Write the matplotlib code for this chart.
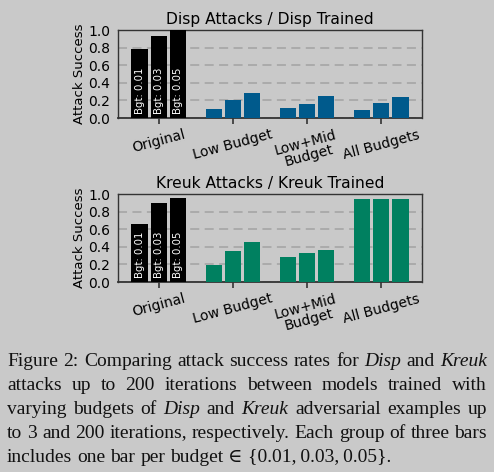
import matplotlib
matplotlib.use('Agg')
import matplotlib.pyplot as plt
import numpy as np

plt.rcParams['font.family'] = ['DejaVu Sans']

groups = ['Original', 'Low Budget', 'Low+Mid\nBudget', 'All Budgets']
budgets = ['0.01', '0.03', '0.05']

disp_orig = [0.79, 0.93, 1.00]
disp_low = [0.10, 0.21, 0.29]
disp_lowmid = [0.11, 0.16, 0.25]
disp_all = [0.09, 0.17, 0.24]

kreuk_orig = [0.66, 0.90, 0.96]
kreuk_low = [0.19, 0.35, 0.46]
kreuk_lowmid = [0.28, 0.33, 0.37]
kreuk_all = [0.94, 0.94, 0.94]

bg = '#c9c9c9'
fig = plt.figure(figsize=(4.94, 4.72), dpi=100, facecolor=bg)


def panel(rect, title, orig, rest, color):
    ax = fig.add_axes(rect, facecolor=bg)
    ind = np.arange(len(groups))
    width = 0.22
    offs = [-0.26, 0.0, 0.26]
    for j in range(3):
        ax.bar(ind[0] + offs[j], orig[j], width, color='black', zorder=3)
        ax.text(ind[0] + offs[j], 0.045, 'Bgt: ' + budgets[j], rotation=90,
                color='white', fontsize=7.3, ha='center', va='bottom', zorder=4)
        vals = [r[j] for r in rest]
        ax.bar(ind[1:] + offs[j], vals, width, color=color, zorder=3)
    ax.set_xlim(-0.55, 3.55)
    ax.set_ylim(0, 1.0)
    ax.set_yticks([0, 0.2, 0.4, 0.6, 0.8, 1.0])
    ax.set_yticklabels(['0.0', '0.2', '0.4', '0.6', '0.8', '1.0'], fontsize=10)
    ax.set_xticks(ind)
    ax.set_xticklabels(groups, rotation=15, fontsize=10, ha='center',
                       linespacing=0.95)
    ax.tick_params(axis='x', length=4, width=1.2, color='#333333', pad=3)
    ax.tick_params(axis='y', length=0, pad=5.5)
    ax.yaxis.grid(True, linestyle=(0, (5, 3)), color='#a8a8a8', linewidth=1.3,
                  zorder=0)
    ax.set_axisbelow(True)
    for s in ax.spines.values():
        s.set_color('#333333')
        s.set_linewidth(1.0)
    ax.spines['bottom'].set_linewidth(1.3)
    ax.set_ylabel('Attack Success', fontsize=9.5, labelpad=2)
    ax.set_title(title, fontsize=11.2, pad=4.5)
    return ax


panel([0.239, 0.750, 0.615, 0.186], 'Disp Attacks / Disp Trained',
      disp_orig, [disp_low, disp_lowmid, disp_all], '#005a8c')
panel([0.239, 0.4025, 0.615, 0.186], 'Kreuk Attacks / Kreuk Trained',
      kreuk_orig, [kreuk_low, kreuk_lowmid, kreuk_all], '#008060')

# caption, justified line by line
lines = [
    ('Figure 2:  Comparing attack success rates for *Disp and *Kreuk', True),
    ('attacks up to 200 iterations between models trained with', True),
    ('varying budgets of *Disp and *Kreuk adversarial examples up', True),
    ('to 3 and 200 iterations, respectively. Each group of three bars', True),
    ('includes one bar per budget \u2208 {0.01,\u20090.03,\u20090.05}.', False),
]
left_px, right_px = 7, 487
y_px = [361, 385, 409, 433, 457]
W, H = 494, 472
fig.canvas.draw()
renderer = fig.canvas.get_renderer()
for (line, justify), yp in zip(lines, y_px):
    words = line.split(' ')
    texts = []
    for w in words:
        if w == '':
            continue
        style = 'normal'
        if w.startswith('*'):
            w = w[1:]
            style = 'italic'
        t = fig.text(0, 1 - yp / H, w, fontsize=14,
                     family=['Liberation Serif', 'DejaVu Serif'],
                     style=style, va='center', ha='left', color='#111111')
        texts.append(t)
    widths = [t.get_window_extent(renderer).width for t in texts]
    total = sum(widths)
    n = len(texts) - 1
    if justify and n > 0:
        gap = (right_px - left_px - total) / n
    else:
        gap = 5
    x = left_px
    for t, wd in zip(texts, widths):
        t.set_x(x / W)
        x += wd + gap

fig.savefig('out.png', dpi=100, facecolor=bg)
